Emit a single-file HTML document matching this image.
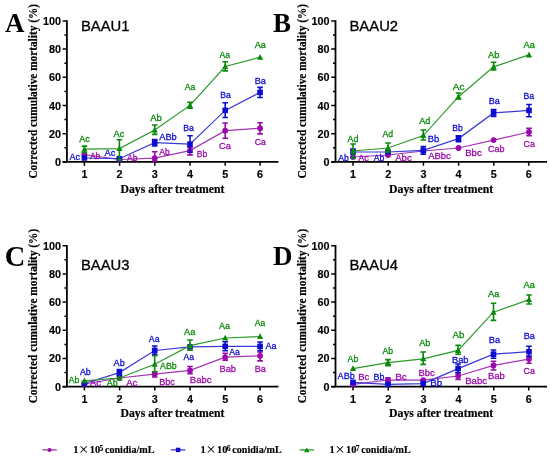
<!DOCTYPE html><html><head><meta charset="utf-8"><style>
html,body{margin:0;padding:0;background:#fff;width:550px;height:459px;overflow:hidden}
svg{display:block;filter:blur(0.35px)}
.tl{font-family:'Liberation Sans', sans-serif;font-size:10.8px;font-weight:bold;fill:#000;stroke:#000;stroke-width:0.15px}
.xt{font-family:'Liberation Serif', serif;font-size:12px;font-weight:bold;fill:#000;stroke:#000;stroke-width:0.2px}
.yt{font-family:'Liberation Serif', serif;font-size:12px;font-weight:bold;fill:#000;stroke:#000;stroke-width:0.2px}
.bt{font-family:'Liberation Sans', sans-serif;font-size:14.8px;fill:#000;stroke:#000;stroke-width:0.3px}
.lb{font-family:'Liberation Sans', sans-serif;font-size:9.8px;stroke-width:0.3px}
.pl{font-family:'Liberation Serif', serif;font-size:27px;font-weight:bold;fill:#000}
.lg{font-family:'Liberation Serif', serif;font-size:10.4px;font-weight:bold;fill:#000;stroke:#000;stroke-width:0.15px}
</style></head><body>
<svg width="550" height="459" viewBox="0 0 550 459">
<g transform="translate(0,0)">
<path d="M66.9 20.2V162.7M62.6 161.9H278.4" stroke="#000" stroke-width="1.8" fill="none"/>
<path d="M62.6 161.9H66.9M62.6 133.7H66.9M62.6 105.5H66.9M62.6 77.3H66.9M62.6 49.1H66.9M62.6 20.9H66.9M64.4 147.8H66.9M64.4 119.6H66.9M64.4 91.4H66.9M64.4 63.2H66.9M64.4 35H66.9M84.4 161.9V165.8M119.6 161.9V165.8M154.8 161.9V165.8M190 161.9V165.8M225.2 161.9V165.8M260.1 161.9V165.8" stroke="#000" stroke-width="1.5" fill="none"/>
<text x="60.9" y="165.9" text-anchor="end" class="tl">0</text>
<text x="60.9" y="137.7" text-anchor="end" class="tl">20</text>
<text x="60.9" y="109.5" text-anchor="end" class="tl">40</text>
<text x="60.9" y="81.3" text-anchor="end" class="tl">60</text>
<text x="60.9" y="53.1" text-anchor="end" class="tl">80</text>
<text x="60.9" y="24.9" text-anchor="end" class="tl">100</text>
<text x="84.4" y="178.4" text-anchor="middle" class="tl">1</text>
<text x="119.6" y="178.4" text-anchor="middle" class="tl">2</text>
<text x="154.8" y="178.4" text-anchor="middle" class="tl">3</text>
<text x="190" y="178.4" text-anchor="middle" class="tl">4</text>
<text x="225.2" y="178.4" text-anchor="middle" class="tl">5</text>
<text x="260.1" y="178.4" text-anchor="middle" class="tl">6</text>
<text x="172.5" y="192.6" text-anchor="middle" class="xt" textLength="104" lengthAdjust="spacingAndGlyphs">Days after treatment</text>
<text transform="translate(37.1,91.3) rotate(-90)" text-anchor="middle" class="yt" textLength="174.5" lengthAdjust="spacingAndGlyphs">Corrected cumulative mortality (%)</text>
<text x="80.9" y="31.1" class="bt" textLength="48.6" lengthAdjust="spacingAndGlyphs">BAAU1</text>
</g>
<g transform="translate(268.6,0)">
<path d="M66.9 20.2V162.7M62.6 161.9H278.4" stroke="#000" stroke-width="1.8" fill="none"/>
<path d="M62.6 161.9H66.9M62.6 133.7H66.9M62.6 105.5H66.9M62.6 77.3H66.9M62.6 49.1H66.9M62.6 20.9H66.9M64.4 147.8H66.9M64.4 119.6H66.9M64.4 91.4H66.9M64.4 63.2H66.9M64.4 35H66.9M84.4 161.9V165.8M119.6 161.9V165.8M154.8 161.9V165.8M190 161.9V165.8M225.2 161.9V165.8M260.1 161.9V165.8" stroke="#000" stroke-width="1.5" fill="none"/>
<text x="60.9" y="165.9" text-anchor="end" class="tl">0</text>
<text x="60.9" y="137.7" text-anchor="end" class="tl">20</text>
<text x="60.9" y="109.5" text-anchor="end" class="tl">40</text>
<text x="60.9" y="81.3" text-anchor="end" class="tl">60</text>
<text x="60.9" y="53.1" text-anchor="end" class="tl">80</text>
<text x="60.9" y="24.9" text-anchor="end" class="tl">100</text>
<text x="84.4" y="178.4" text-anchor="middle" class="tl">1</text>
<text x="119.6" y="178.4" text-anchor="middle" class="tl">2</text>
<text x="154.8" y="178.4" text-anchor="middle" class="tl">3</text>
<text x="190" y="178.4" text-anchor="middle" class="tl">4</text>
<text x="225.2" y="178.4" text-anchor="middle" class="tl">5</text>
<text x="260.1" y="178.4" text-anchor="middle" class="tl">6</text>
<text x="172.5" y="192.6" text-anchor="middle" class="xt" textLength="104" lengthAdjust="spacingAndGlyphs">Days after treatment</text>
<text transform="translate(37.1,91.3) rotate(-90)" text-anchor="middle" class="yt" textLength="174.5" lengthAdjust="spacingAndGlyphs">Corrected cumulative mortality (%)</text>
<text x="80.9" y="31.1" class="bt" textLength="48.6" lengthAdjust="spacingAndGlyphs">BAAU2</text>
</g>
<g transform="translate(0,224.8)">
<path d="M66.9 20.2V162.7M62.6 161.9H278.4" stroke="#000" stroke-width="1.8" fill="none"/>
<path d="M62.6 161.9H66.9M62.6 133.7H66.9M62.6 105.5H66.9M62.6 77.3H66.9M62.6 49.1H66.9M62.6 20.9H66.9M64.4 147.8H66.9M64.4 119.6H66.9M64.4 91.4H66.9M64.4 63.2H66.9M64.4 35H66.9M84.4 161.9V165.8M119.6 161.9V165.8M154.8 161.9V165.8M190 161.9V165.8M225.2 161.9V165.8M260.1 161.9V165.8" stroke="#000" stroke-width="1.5" fill="none"/>
<text x="60.9" y="165.9" text-anchor="end" class="tl">0</text>
<text x="60.9" y="137.7" text-anchor="end" class="tl">20</text>
<text x="60.9" y="109.5" text-anchor="end" class="tl">40</text>
<text x="60.9" y="81.3" text-anchor="end" class="tl">60</text>
<text x="60.9" y="53.1" text-anchor="end" class="tl">80</text>
<text x="60.9" y="24.9" text-anchor="end" class="tl">100</text>
<text x="84.4" y="178.4" text-anchor="middle" class="tl">1</text>
<text x="119.6" y="178.4" text-anchor="middle" class="tl">2</text>
<text x="154.8" y="178.4" text-anchor="middle" class="tl">3</text>
<text x="190" y="178.4" text-anchor="middle" class="tl">4</text>
<text x="225.2" y="178.4" text-anchor="middle" class="tl">5</text>
<text x="260.1" y="178.4" text-anchor="middle" class="tl">6</text>
<text x="172.5" y="192.6" text-anchor="middle" class="xt" textLength="104" lengthAdjust="spacingAndGlyphs">Days after treatment</text>
<text transform="translate(37.1,91.3) rotate(-90)" text-anchor="middle" class="yt" textLength="174.5" lengthAdjust="spacingAndGlyphs">Corrected cumulative mortality (%)</text>
<text x="80.9" y="45" class="bt" textLength="48.6" lengthAdjust="spacingAndGlyphs">BAAU3</text>
</g>
<g transform="translate(268.6,224.8)">
<path d="M66.9 20.2V162.7M62.6 161.9H278.4" stroke="#000" stroke-width="1.8" fill="none"/>
<path d="M62.6 161.9H66.9M62.6 133.7H66.9M62.6 105.5H66.9M62.6 77.3H66.9M62.6 49.1H66.9M62.6 20.9H66.9M64.4 147.8H66.9M64.4 119.6H66.9M64.4 91.4H66.9M64.4 63.2H66.9M64.4 35H66.9M84.4 161.9V165.8M119.6 161.9V165.8M154.8 161.9V165.8M190 161.9V165.8M225.2 161.9V165.8M260.1 161.9V165.8" stroke="#000" stroke-width="1.5" fill="none"/>
<text x="60.9" y="165.9" text-anchor="end" class="tl">0</text>
<text x="60.9" y="137.7" text-anchor="end" class="tl">20</text>
<text x="60.9" y="109.5" text-anchor="end" class="tl">40</text>
<text x="60.9" y="81.3" text-anchor="end" class="tl">60</text>
<text x="60.9" y="53.1" text-anchor="end" class="tl">80</text>
<text x="60.9" y="24.9" text-anchor="end" class="tl">100</text>
<text x="84.4" y="178.4" text-anchor="middle" class="tl">1</text>
<text x="119.6" y="178.4" text-anchor="middle" class="tl">2</text>
<text x="154.8" y="178.4" text-anchor="middle" class="tl">3</text>
<text x="190" y="178.4" text-anchor="middle" class="tl">4</text>
<text x="225.2" y="178.4" text-anchor="middle" class="tl">5</text>
<text x="260.1" y="178.4" text-anchor="middle" class="tl">6</text>
<text x="172.5" y="192.6" text-anchor="middle" class="xt" textLength="104" lengthAdjust="spacingAndGlyphs">Days after treatment</text>
<text transform="translate(37.1,91.3) rotate(-90)" text-anchor="middle" class="yt" textLength="174.5" lengthAdjust="spacingAndGlyphs">Corrected cumulative mortality (%)</text>
<text x="80.9" y="45" class="bt" textLength="48.6" lengthAdjust="spacingAndGlyphs">BAAU4</text>
</g>
<polyline points="84.4,154.5 119.4,159.5 154.7,158.2 190,150.6 225.2,130.7 260.1,128.2" fill="none" stroke="#a634b4" stroke-width="1.2"/>
<circle cx="84.4" cy="154.5" r="2.9" fill="#9a0aaa"/>
<circle cx="119.4" cy="159.5" r="2.9" fill="#9a0aaa"/>
<path d="M154.7 151.8V161M151.9 151.8H157.5M151.9 161H157.5" stroke="#9a0aaa" stroke-width="1.6" fill="none"/>
<circle cx="154.7" cy="158.2" r="2.9" fill="#9a0aaa"/>
<path d="M190 147.3V154.9M187.2 147.3H192.8M187.2 154.9H192.8" stroke="#9a0aaa" stroke-width="1.6" fill="none"/>
<circle cx="190" cy="150.6" r="2.9" fill="#9a0aaa"/>
<path d="M225.2 123V138.3M222.4 123H228M222.4 138.3H228" stroke="#9a0aaa" stroke-width="1.6" fill="none"/>
<circle cx="225.2" cy="130.7" r="2.9" fill="#9a0aaa"/>
<path d="M260.1 122.8V133.9M257.3 122.8H262.9M257.3 133.9H262.9" stroke="#9a0aaa" stroke-width="1.6" fill="none"/>
<circle cx="260.1" cy="128.2" r="2.9" fill="#9a0aaa"/>
<polyline points="84.4,158 119.4,158.7 154.7,142.7 190,144.2 225.2,110.4 260.1,92.4" fill="none" stroke="#3a3ad8" stroke-width="1.2"/>
<rect x="81.6" y="155.2" width="5.6" height="5.6" fill="#0c0cd0"/>
<rect x="116.6" y="155.9" width="5.6" height="5.6" fill="#0c0cd0"/>
<path d="M154.7 139.6V146M151.9 139.6H157.5M151.9 146H157.5" stroke="#0c0cd0" stroke-width="1.6" fill="none"/>
<rect x="151.9" y="139.9" width="5.6" height="5.6" fill="#0c0cd0"/>
<path d="M190 135.8V152.3M187.2 135.8H192.8M187.2 152.3H192.8" stroke="#0c0cd0" stroke-width="1.6" fill="none"/>
<rect x="187.2" y="141.4" width="5.6" height="5.6" fill="#0c0cd0"/>
<path d="M225.2 102.7V117.5M222.4 102.7H228M222.4 117.5H228" stroke="#0c0cd0" stroke-width="1.6" fill="none"/>
<rect x="222.4" y="107.6" width="5.6" height="5.6" fill="#0c0cd0"/>
<path d="M260.1 87.4V97.5M257.3 87.4H262.9M257.3 97.5H262.9" stroke="#0c0cd0" stroke-width="1.6" fill="none"/>
<rect x="257.3" y="89.6" width="5.6" height="5.6" fill="#0c0cd0"/>
<polyline points="84.4,149.2 119.4,148.6 154.7,130 190,105.4 225.2,66.5 260.1,57.2" fill="none" stroke="#2a9a2a" stroke-width="1.2"/>
<path d="M84.4 146.1V152.5M81.6 146.1H87.2M81.6 152.5H87.2" stroke="#0a8a0a" stroke-width="1.6" fill="none"/>
<path d="M84.4 145.9L87.5 151.7H81.3Z" fill="#0a8a0a"/>
<path d="M119.4 139.8V160M116.6 139.8H122.2M116.6 160H122.2" stroke="#0a8a0a" stroke-width="1.6" fill="none"/>
<path d="M119.4 145.3L122.5 151.1H116.3Z" fill="#0a8a0a"/>
<path d="M154.7 125V134.4M151.9 125H157.5M151.9 134.4H157.5" stroke="#0a8a0a" stroke-width="1.6" fill="none"/>
<path d="M154.7 126.7L157.8 132.5H151.6Z" fill="#0a8a0a"/>
<path d="M190 102.3V108.3M187.2 102.3H192.8M187.2 108.3H192.8" stroke="#0a8a0a" stroke-width="1.6" fill="none"/>
<path d="M190 102.1L193.1 107.9H186.9Z" fill="#0a8a0a"/>
<path d="M225.2 61.8V70.9M222.4 61.8H228M222.4 70.9H228" stroke="#0a8a0a" stroke-width="1.6" fill="none"/>
<path d="M225.2 63.2L228.3 69H222.1Z" fill="#0a8a0a"/>
<path d="M260.1 53.9L263.2 59.7H257Z" fill="#0a8a0a"/>
<polyline points="353,157 388,155 423.3,151 458.5,148 493.6,140.1 529,132" fill="none" stroke="#a634b4" stroke-width="1.2"/>
<circle cx="353" cy="157" r="2.9" fill="#9a0aaa"/>
<circle cx="388" cy="155" r="2.9" fill="#9a0aaa"/>
<circle cx="423.3" cy="151" r="2.9" fill="#9a0aaa"/>
<circle cx="458.5" cy="148" r="2.9" fill="#9a0aaa"/>
<circle cx="493.6" cy="140.1" r="2.9" fill="#9a0aaa"/>
<path d="M529 128.2V135.8M526.2 128.2H531.8M526.2 135.8H531.8" stroke="#9a0aaa" stroke-width="1.6" fill="none"/>
<circle cx="529" cy="132" r="2.9" fill="#9a0aaa"/>
<polyline points="353,152 388,152 423.3,150.4 458.5,138.6 493.6,112.9 529,110.4" fill="none" stroke="#3a3ad8" stroke-width="1.2"/>
<path d="M353 149V158M350.2 149H355.8M350.2 158H355.8" stroke="#0c0cd0" stroke-width="1.6" fill="none"/>
<rect x="350.2" y="149.2" width="5.6" height="5.6" fill="#0c0cd0"/>
<rect x="385.2" y="149.2" width="5.6" height="5.6" fill="#0c0cd0"/>
<path d="M423.3 146.6V154.2M420.5 146.6H426.1M420.5 154.2H426.1" stroke="#0c0cd0" stroke-width="1.6" fill="none"/>
<rect x="420.5" y="147.6" width="5.6" height="5.6" fill="#0c0cd0"/>
<path d="M458.5 135.8V141.6M455.7 135.8H461.3M455.7 141.6H461.3" stroke="#0c0cd0" stroke-width="1.6" fill="none"/>
<rect x="455.7" y="135.8" width="5.6" height="5.6" fill="#0c0cd0"/>
<path d="M493.6 109.6V116.4M490.8 109.6H496.4M490.8 116.4H496.4" stroke="#0c0cd0" stroke-width="1.6" fill="none"/>
<rect x="490.8" y="110.1" width="5.6" height="5.6" fill="#0c0cd0"/>
<path d="M529 104.5V116.7M526.2 104.5H531.8M526.2 116.7H531.8" stroke="#0c0cd0" stroke-width="1.6" fill="none"/>
<rect x="526.2" y="107.6" width="5.6" height="5.6" fill="#0c0cd0"/>
<polyline points="353,151 388,148 423.3,135.6 458.5,96.7 493.6,66.9 529,54.9" fill="none" stroke="#2a9a2a" stroke-width="1.2"/>
<path d="M353 144V158M350.2 144H355.8M350.2 158H355.8" stroke="#0a8a0a" stroke-width="1.6" fill="none"/>
<path d="M353 147.7L356.1 153.5H349.9Z" fill="#0a8a0a"/>
<path d="M388 143V152M385.2 143H390.8M385.2 152H390.8" stroke="#0a8a0a" stroke-width="1.6" fill="none"/>
<path d="M388 144.7L391.1 150.5H384.9Z" fill="#0a8a0a"/>
<path d="M423.3 130V140M420.5 130H426.1M420.5 140H426.1" stroke="#0a8a0a" stroke-width="1.6" fill="none"/>
<path d="M423.3 132.3L426.4 138.1H420.2Z" fill="#0a8a0a"/>
<path d="M458.5 93V99M455.7 93H461.3M455.7 99H461.3" stroke="#0a8a0a" stroke-width="1.6" fill="none"/>
<path d="M458.5 93.4L461.6 99.2H455.4Z" fill="#0a8a0a"/>
<path d="M493.6 62.3V70M490.8 62.3H496.4M490.8 70H496.4" stroke="#0a8a0a" stroke-width="1.6" fill="none"/>
<path d="M493.6 63.6L496.7 69.4H490.5Z" fill="#0a8a0a"/>
<path d="M529 51.6L532.1 57.4H525.9Z" fill="#0a8a0a"/>
<polyline points="84.4,384 119.4,378 154.7,374.2 190,370.3 225.2,357.1 260.1,355.8" fill="none" stroke="#a634b4" stroke-width="1.2"/>
<circle cx="84.4" cy="384" r="2.9" fill="#9a0aaa"/>
<circle cx="119.4" cy="378" r="2.9" fill="#9a0aaa"/>
<path d="M154.7 372V377M151.9 372H157.5M151.9 377H157.5" stroke="#9a0aaa" stroke-width="1.6" fill="none"/>
<circle cx="154.7" cy="374.2" r="2.9" fill="#9a0aaa"/>
<path d="M190 366.5V373.6M187.2 366.5H192.8M187.2 373.6H192.8" stroke="#9a0aaa" stroke-width="1.6" fill="none"/>
<circle cx="190" cy="370.3" r="2.9" fill="#9a0aaa"/>
<path d="M225.2 353.3V360.1M222.4 353.3H228M222.4 360.1H228" stroke="#9a0aaa" stroke-width="1.6" fill="none"/>
<circle cx="225.2" cy="357.1" r="2.9" fill="#9a0aaa"/>
<path d="M260.1 352V360.9M257.3 352H262.9M257.3 360.9H262.9" stroke="#9a0aaa" stroke-width="1.6" fill="none"/>
<circle cx="260.1" cy="355.8" r="2.9" fill="#9a0aaa"/>
<polyline points="84.4,383.5 119.4,372.6 154.7,350.5 190,346.9 225.2,346.4 260.1,346.4" fill="none" stroke="#3a3ad8" stroke-width="1.2"/>
<rect x="81.6" y="380.7" width="5.6" height="5.6" fill="#0c0cd0"/>
<path d="M119.4 369.6V375.6M116.6 369.6H122.2M116.6 375.6H122.2" stroke="#0c0cd0" stroke-width="1.6" fill="none"/>
<rect x="116.6" y="369.8" width="5.6" height="5.6" fill="#0c0cd0"/>
<path d="M154.7 346V354.4M151.9 346H157.5M151.9 354.4H157.5" stroke="#0c0cd0" stroke-width="1.6" fill="none"/>
<rect x="151.9" y="347.7" width="5.6" height="5.6" fill="#0c0cd0"/>
<rect x="187.2" y="344.1" width="5.6" height="5.6" fill="#0c0cd0"/>
<path d="M225.2 341.8V350.7M222.4 341.8H228M222.4 350.7H228" stroke="#0c0cd0" stroke-width="1.6" fill="none"/>
<rect x="222.4" y="343.6" width="5.6" height="5.6" fill="#0c0cd0"/>
<path d="M260.1 342V350.7M257.3 342H262.9M257.3 350.7H262.9" stroke="#0c0cd0" stroke-width="1.6" fill="none"/>
<rect x="257.3" y="343.6" width="5.6" height="5.6" fill="#0c0cd0"/>
<polyline points="84.4,380.8 119.4,378 154.7,364.2 190,345.6 225.2,338 260.1,336.5" fill="none" stroke="#2a9a2a" stroke-width="1.2"/>
<path d="M84.4 377.5L87.5 383.3H81.3Z" fill="#0a8a0a"/>
<path d="M119.4 374.7L122.5 380.5H116.3Z" fill="#0a8a0a"/>
<path d="M154.7 355.8V371.8M151.9 355.8H157.5M151.9 371.8H157.5" stroke="#0a8a0a" stroke-width="1.6" fill="none"/>
<path d="M154.7 360.9L157.8 366.7H151.6Z" fill="#0a8a0a"/>
<path d="M190 340V350.2M187.2 340H192.8M187.2 350.2H192.8" stroke="#0a8a0a" stroke-width="1.6" fill="none"/>
<path d="M190 342.3L193.1 348.1H186.9Z" fill="#0a8a0a"/>
<path d="M225.2 334.7L228.3 340.5H222.1Z" fill="#0a8a0a"/>
<path d="M260.1 333.2L263.2 339H257Z" fill="#0a8a0a"/>
<polyline points="353,384.4 388,380 423.2,380.2 458.1,376 493.5,365.4 529,359.1" fill="none" stroke="#a634b4" stroke-width="1.2"/>
<circle cx="353" cy="384.4" r="2.9" fill="#9a0aaa"/>
<path d="M388 378V382M385.2 378H390.8M385.2 382H390.8" stroke="#9a0aaa" stroke-width="1.6" fill="none"/>
<circle cx="388" cy="380" r="2.9" fill="#9a0aaa"/>
<circle cx="423.2" cy="380.2" r="2.9" fill="#9a0aaa"/>
<path d="M458.1 372.7V379.5M455.3 372.7H460.9M455.3 379.5H460.9" stroke="#9a0aaa" stroke-width="1.6" fill="none"/>
<circle cx="458.1" cy="376" r="2.9" fill="#9a0aaa"/>
<path d="M493.5 361.3V370M490.7 361.3H496.3M490.7 370H496.3" stroke="#9a0aaa" stroke-width="1.6" fill="none"/>
<circle cx="493.5" cy="365.4" r="2.9" fill="#9a0aaa"/>
<path d="M529 356.4V363.2M526.2 356.4H531.8M526.2 363.2H531.8" stroke="#9a0aaa" stroke-width="1.6" fill="none"/>
<circle cx="529" cy="359.1" r="2.9" fill="#9a0aaa"/>
<polyline points="353,382.4 388,384.4 423.2,383.6 458.1,368.6 493.5,354.2 529,351.7" fill="none" stroke="#3a3ad8" stroke-width="1.2"/>
<rect x="350.2" y="379.6" width="5.6" height="5.6" fill="#0c0cd0"/>
<rect x="385.2" y="381.6" width="5.6" height="5.6" fill="#0c0cd0"/>
<rect x="420.4" y="380.8" width="5.6" height="5.6" fill="#0c0cd0"/>
<path d="M458.1 364V372.7M455.3 364H460.9M455.3 372.7H460.9" stroke="#0c0cd0" stroke-width="1.6" fill="none"/>
<rect x="455.3" y="365.8" width="5.6" height="5.6" fill="#0c0cd0"/>
<path d="M493.5 350V358.3M490.7 350H496.3M490.7 358.3H496.3" stroke="#0c0cd0" stroke-width="1.6" fill="none"/>
<rect x="490.7" y="351.4" width="5.6" height="5.6" fill="#0c0cd0"/>
<path d="M529 346.3V356.4M526.2 346.3H531.8M526.2 356.4H531.8" stroke="#0c0cd0" stroke-width="1.6" fill="none"/>
<rect x="526.2" y="348.9" width="5.6" height="5.6" fill="#0c0cd0"/>
<polyline points="353,368.6 388,362.6 423.2,358.8 458.1,350.4 493.5,312.2 529,299.6" fill="none" stroke="#2a9a2a" stroke-width="1.2"/>
<path d="M353 365.3L356.1 371.1H349.9Z" fill="#0a8a0a"/>
<path d="M388 359.6V365.6M385.2 359.6H390.8M385.2 365.6H390.8" stroke="#0a8a0a" stroke-width="1.6" fill="none"/>
<path d="M388 359.3L391.1 365.1H384.9Z" fill="#0a8a0a"/>
<path d="M423.2 352V364.4M420.4 352H426M420.4 364.4H426" stroke="#0a8a0a" stroke-width="1.6" fill="none"/>
<path d="M423.2 355.5L426.3 361.3H420.1Z" fill="#0a8a0a"/>
<path d="M458.1 345.4V354.2M455.3 345.4H460.9M455.3 354.2H460.9" stroke="#0a8a0a" stroke-width="1.6" fill="none"/>
<path d="M458.1 347.1L461.2 352.9H455Z" fill="#0a8a0a"/>
<path d="M493.5 303.2V320.4M490.7 303.2H496.3M490.7 320.4H496.3" stroke="#0a8a0a" stroke-width="1.6" fill="none"/>
<path d="M493.5 308.9L496.6 314.7H490.4Z" fill="#0a8a0a"/>
<path d="M529 295V304M526.2 295H531.8M526.2 304H531.8" stroke="#0a8a0a" stroke-width="1.6" fill="none"/>
<path d="M529 296.3L532.1 302.1H525.9Z" fill="#0a8a0a"/>
<text x="89.9" y="158.6" class="lb" fill="#9a0aaa" stroke="#9a0aaa" textLength="10.5" lengthAdjust="spacingAndGlyphs">Ab</text>
<text x="127" y="160.9" class="lb" fill="#9a0aaa" stroke="#9a0aaa" textLength="10.5" lengthAdjust="spacingAndGlyphs">Ab</text>
<text x="159.2" y="154.9" class="lb" fill="#9a0aaa" stroke="#9a0aaa" textLength="10.6" lengthAdjust="spacingAndGlyphs">Ab</text>
<text x="196.7" y="157.2" class="lb" fill="#9a0aaa" stroke="#9a0aaa" textLength="10.5" lengthAdjust="spacingAndGlyphs">Bb</text>
<text x="219.1" y="149.2" class="lb" fill="#9a0aaa" stroke="#9a0aaa" textLength="11.7" lengthAdjust="spacingAndGlyphs">Ca</text>
<text x="254.7" y="145.1" class="lb" fill="#9a0aaa" stroke="#9a0aaa" textLength="11.1" lengthAdjust="spacingAndGlyphs">Ca</text>
<text x="69.6" y="160.4" class="lb" fill="#0c0cd0" stroke="#0c0cd0" textLength="10.5" lengthAdjust="spacingAndGlyphs">Ac</text>
<text x="104.5" y="156.35" class="lb" fill="#0c0cd0" stroke="#0c0cd0" textLength="10.9" lengthAdjust="spacingAndGlyphs">Ac</text>
<text x="159.2" y="140.15" class="lb" fill="#0c0cd0" stroke="#0c0cd0" textLength="17.6" lengthAdjust="spacingAndGlyphs">ABb</text>
<text x="183.2" y="131" class="lb" fill="#0c0cd0" stroke="#0c0cd0" textLength="10.6" lengthAdjust="spacingAndGlyphs">Ba</text>
<text x="220.2" y="98.05" class="lb" fill="#0c0cd0" stroke="#0c0cd0" textLength="10.6" lengthAdjust="spacingAndGlyphs">Ba</text>
<text x="254.7" y="83.7" class="lb" fill="#0c0cd0" stroke="#0c0cd0" textLength="11.1" lengthAdjust="spacingAndGlyphs">Ba</text>
<text x="79.3" y="141.6" class="lb" fill="#0a8a0a" stroke="#0a8a0a" textLength="10.5" lengthAdjust="spacingAndGlyphs">Ac</text>
<text x="113.6" y="137.2" class="lb" fill="#0a8a0a" stroke="#0a8a0a" textLength="10.8" lengthAdjust="spacingAndGlyphs">Ac</text>
<text x="150.2" y="121.2" class="lb" fill="#0a8a0a" stroke="#0a8a0a" textLength="11.6" lengthAdjust="spacingAndGlyphs">Ab</text>
<text x="184.7" y="89.6" class="lb" fill="#0a8a0a" stroke="#0a8a0a" textLength="10.6" lengthAdjust="spacingAndGlyphs">Aa</text>
<text x="219.6" y="58" class="lb" fill="#0a8a0a" stroke="#0a8a0a" textLength="10.5" lengthAdjust="spacingAndGlyphs">Aa</text>
<text x="254.7" y="48.1" class="lb" fill="#0a8a0a" stroke="#0a8a0a" textLength="11.1" lengthAdjust="spacingAndGlyphs">Aa</text>
<text x="358.2" y="160.6" class="lb" fill="#9a0aaa" stroke="#9a0aaa" textLength="10.6" lengthAdjust="spacingAndGlyphs">Ac</text>
<text x="395.2" y="160.6" class="lb" fill="#9a0aaa" stroke="#9a0aaa" textLength="16.6" lengthAdjust="spacingAndGlyphs">Abc</text>
<text x="428.2" y="158.95" class="lb" fill="#9a0aaa" stroke="#9a0aaa" textLength="22.6" lengthAdjust="spacingAndGlyphs">ABbc</text>
<text x="465.2" y="156.45" class="lb" fill="#9a0aaa" stroke="#9a0aaa" textLength="16.6" lengthAdjust="spacingAndGlyphs">Bbc</text>
<text x="488" y="152.1" class="lb" fill="#9a0aaa" stroke="#9a0aaa" textLength="16.6" lengthAdjust="spacingAndGlyphs">Cab</text>
<text x="523.6" y="147.05" class="lb" fill="#9a0aaa" stroke="#9a0aaa" textLength="11.2" lengthAdjust="spacingAndGlyphs">Ca</text>
<text x="338.2" y="160.6" class="lb" fill="#0c0cd0" stroke="#0c0cd0" textLength="10.6" lengthAdjust="spacingAndGlyphs">Ab</text>
<text x="373.8" y="160.6" class="lb" fill="#0c0cd0" stroke="#0c0cd0" textLength="10.6" lengthAdjust="spacingAndGlyphs">Ab</text>
<text x="427.7" y="141.95" class="lb" fill="#0c0cd0" stroke="#0c0cd0" textLength="11.5" lengthAdjust="spacingAndGlyphs">Bb</text>
<text x="452.2" y="131" class="lb" fill="#0c0cd0" stroke="#0c0cd0" textLength="10.6" lengthAdjust="spacingAndGlyphs">Bb</text>
<text x="488.7" y="104.25" class="lb" fill="#0c0cd0" stroke="#0c0cd0" textLength="11.1" lengthAdjust="spacingAndGlyphs">Ba</text>
<text x="523.6" y="98.65" class="lb" fill="#0c0cd0" stroke="#0c0cd0" textLength="10.6" lengthAdjust="spacingAndGlyphs">Ba</text>
<text x="347.6" y="141.5" class="lb" fill="#0a8a0a" stroke="#0a8a0a" textLength="10.8" lengthAdjust="spacingAndGlyphs">Ad</text>
<text x="382.6" y="137" class="lb" fill="#0a8a0a" stroke="#0a8a0a" textLength="10.6" lengthAdjust="spacingAndGlyphs">Ad</text>
<text x="419.2" y="124.2" class="lb" fill="#0a8a0a" stroke="#0a8a0a" textLength="11.1" lengthAdjust="spacingAndGlyphs">Ad</text>
<text x="452.8" y="90.05" class="lb" fill="#0a8a0a" stroke="#0a8a0a" textLength="11.6" lengthAdjust="spacingAndGlyphs">Ac</text>
<text x="488" y="58" class="lb" fill="#0a8a0a" stroke="#0a8a0a" textLength="11.3" lengthAdjust="spacingAndGlyphs">Ab</text>
<text x="523.5" y="48.4" class="lb" fill="#0a8a0a" stroke="#0a8a0a" textLength="11.3" lengthAdjust="spacingAndGlyphs">Aa</text>
<text x="90" y="385.65" class="lb" fill="#9a0aaa" stroke="#9a0aaa" textLength="11.1" lengthAdjust="spacingAndGlyphs">Ac</text>
<text x="126.2" y="385.7" class="lb" fill="#9a0aaa" stroke="#9a0aaa" textLength="11.2" lengthAdjust="spacingAndGlyphs">Ac</text>
<text x="159.2" y="384.8" class="lb" fill="#9a0aaa" stroke="#9a0aaa" textLength="15.7" lengthAdjust="spacingAndGlyphs">Bbc</text>
<text x="189.8" y="382.5" class="lb" fill="#9a0aaa" stroke="#9a0aaa" textLength="21.8" lengthAdjust="spacingAndGlyphs">Babc</text>
<text x="219.6" y="372.1" class="lb" fill="#9a0aaa" stroke="#9a0aaa" textLength="16.4" lengthAdjust="spacingAndGlyphs">Bab</text>
<text x="254.7" y="372.1" class="lb" fill="#9a0aaa" stroke="#9a0aaa" textLength="11.1" lengthAdjust="spacingAndGlyphs">Ba</text>
<text x="79.9" y="374.5" class="lb" fill="#0c0cd0" stroke="#0c0cd0" textLength="10.8" lengthAdjust="spacingAndGlyphs">Ab</text>
<text x="113.6" y="365.7" class="lb" fill="#0c0cd0" stroke="#0c0cd0" textLength="11.2" lengthAdjust="spacingAndGlyphs">Ab</text>
<text x="148.8" y="342" class="lb" fill="#0c0cd0" stroke="#0c0cd0" textLength="10.7" lengthAdjust="spacingAndGlyphs">Aa</text>
<text x="183.5" y="359.65" class="lb" fill="#0c0cd0" stroke="#0c0cd0" textLength="10.5" lengthAdjust="spacingAndGlyphs">Aa</text>
<text x="229.2" y="354.55" class="lb" fill="#0c0cd0" stroke="#0c0cd0" textLength="10.6" lengthAdjust="spacingAndGlyphs">Aa</text>
<text x="265.4" y="349.4" class="lb" fill="#0c0cd0" stroke="#0c0cd0" textLength="11" lengthAdjust="spacingAndGlyphs">Aa</text>
<text x="68.7" y="383.45" class="lb" fill="#0a8a0a" stroke="#0a8a0a" textLength="10.5" lengthAdjust="spacingAndGlyphs">Ab</text>
<text x="106.8" y="386.2" class="lb" fill="#0a8a0a" stroke="#0a8a0a" textLength="11" lengthAdjust="spacingAndGlyphs">Ab</text>
<text x="160" y="368.8" class="lb" fill="#0a8a0a" stroke="#0a8a0a" textLength="16.7" lengthAdjust="spacingAndGlyphs">ABb</text>
<text x="184" y="334.85" class="lb" fill="#0a8a0a" stroke="#0a8a0a" textLength="11.3" lengthAdjust="spacingAndGlyphs">Aa</text>
<text x="219.1" y="329.45" class="lb" fill="#0a8a0a" stroke="#0a8a0a" textLength="11" lengthAdjust="spacingAndGlyphs">Aa</text>
<text x="254.7" y="326.3" class="lb" fill="#0a8a0a" stroke="#0a8a0a" textLength="10.5" lengthAdjust="spacingAndGlyphs">Aa</text>
<text x="358.2" y="380.4" class="lb" fill="#9a0aaa" stroke="#9a0aaa" textLength="11" lengthAdjust="spacingAndGlyphs">Bc</text>
<text x="395.2" y="379.5" class="lb" fill="#9a0aaa" stroke="#9a0aaa" textLength="11.6" lengthAdjust="spacingAndGlyphs">Bc</text>
<text x="418.5" y="375.5" class="lb" fill="#9a0aaa" stroke="#9a0aaa" textLength="16.3" lengthAdjust="spacingAndGlyphs">Bbc</text>
<text x="465.2" y="383.65" class="lb" fill="#9a0aaa" stroke="#9a0aaa" textLength="21.9" lengthAdjust="spacingAndGlyphs">Babc</text>
<text x="488" y="379.3" class="lb" fill="#9a0aaa" stroke="#9a0aaa" textLength="16.8" lengthAdjust="spacingAndGlyphs">Bab</text>
<text x="523.5" y="373.55" class="lb" fill="#9a0aaa" stroke="#9a0aaa" textLength="11.3" lengthAdjust="spacingAndGlyphs">Ca</text>
<text x="337.6" y="378.9" class="lb" fill="#0c0cd0" stroke="#0c0cd0" textLength="17.2" lengthAdjust="spacingAndGlyphs">ABb</text>
<text x="373.6" y="379.5" class="lb" fill="#0c0cd0" stroke="#0c0cd0" textLength="10.8" lengthAdjust="spacingAndGlyphs">Bb</text>
<text x="430.2" y="386.15" class="lb" fill="#0c0cd0" stroke="#0c0cd0" textLength="11.9" lengthAdjust="spacingAndGlyphs">Bb</text>
<text x="452" y="363" class="lb" fill="#0c0cd0" stroke="#0c0cd0" textLength="16.5" lengthAdjust="spacingAndGlyphs">Bab</text>
<text x="488.8" y="343.15" class="lb" fill="#0c0cd0" stroke="#0c0cd0" textLength="11.4" lengthAdjust="spacingAndGlyphs">Ba</text>
<text x="523.7" y="339.1" class="lb" fill="#0c0cd0" stroke="#0c0cd0" textLength="11.1" lengthAdjust="spacingAndGlyphs">Ba</text>
<text x="347.6" y="361.5" class="lb" fill="#0a8a0a" stroke="#0a8a0a" textLength="10.8" lengthAdjust="spacingAndGlyphs">Ab</text>
<text x="382.6" y="353.5" class="lb" fill="#0a8a0a" stroke="#0a8a0a" textLength="10.6" lengthAdjust="spacingAndGlyphs">Ab</text>
<text x="419.2" y="346" class="lb" fill="#0a8a0a" stroke="#0a8a0a" textLength="11.1" lengthAdjust="spacingAndGlyphs">Ab</text>
<text x="452.6" y="337.75" class="lb" fill="#0a8a0a" stroke="#0a8a0a" textLength="11.8" lengthAdjust="spacingAndGlyphs">Ab</text>
<text x="488" y="297.25" class="lb" fill="#0a8a0a" stroke="#0a8a0a" textLength="11.3" lengthAdjust="spacingAndGlyphs">Aa</text>
<text x="523.5" y="288" class="lb" fill="#0a8a0a" stroke="#0a8a0a" textLength="11.3" lengthAdjust="spacingAndGlyphs">Aa</text>
<text x="5" y="31.6" class="pl">A</text>
<text x="273" y="31.6" class="pl">B</text>
<text x="4.8" y="265.6" class="pl" style="font-size:28.5px">C</text>
<text x="273" y="265.4" class="pl">D</text>
<path d="M42.3 449.9H56.8" stroke="#a634b4" stroke-width="1.3"/>
<circle cx="49.55" cy="449.9" r="2" fill="#9a0aaa"/>
<text y="453.2" class="lg"><tspan x="73.2">1</tspan><tspan x="78.5" font-family="'Noto Sans CJK SC', sans-serif" font-weight="normal">×</tspan><tspan x="89.7">10</tspan><tspan x="99.4" font-size="7.6px" dy="-2.6">5</tspan><tspan x="104.9" dy="2.6" textLength="49.6" lengthAdjust="spacingAndGlyphs">conidia/mL</tspan></text>
<path d="M170.8 449.9H185.4" stroke="#3a3ad8" stroke-width="1.3"/>
<rect x="175.9" y="447.7" width="4.4" height="4.4" fill="#0c0cd0"/>
<text y="453.2" class="lg"><tspan x="200.5">1</tspan><tspan x="205.8" font-family="'Noto Sans CJK SC', sans-serif" font-weight="normal">×</tspan><tspan x="217">10</tspan><tspan x="226.7" font-size="7.6px" dy="-2.6">6</tspan><tspan x="232.2" dy="2.6" textLength="49.6" lengthAdjust="spacingAndGlyphs">conidia/mL</tspan></text>
<path d="M299.6 449.9H314" stroke="#2a9a2a" stroke-width="1.3"/>
<path d="M306.8 447.4L309.6 452.2H304Z" fill="#0a8a0a"/>
<text y="453.2" class="lg"><tspan x="329.5">1</tspan><tspan x="334.8" font-family="'Noto Sans CJK SC', sans-serif" font-weight="normal">×</tspan><tspan x="346">10</tspan><tspan x="355.7" font-size="7.6px" dy="-2.6">7</tspan><tspan x="361.2" dy="2.6" textLength="49.6" lengthAdjust="spacingAndGlyphs">conidia/mL</tspan></text>
</svg></body></html>
